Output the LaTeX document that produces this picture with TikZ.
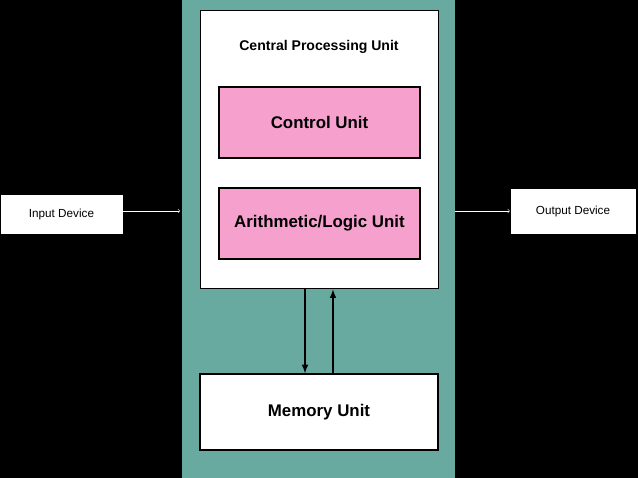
\documentclass[tikz,border=0pt]{standalone}
\usepackage{fontspec}
\setmainfont{Liberation Sans}
\definecolor{teal}{RGB}{104,170,160}
\definecolor{unitpink}{RGB}{245,160,205}
\begin{document}
\begin{tikzpicture}[x=0.03cm,y=-0.03cm,
  unit/.style={draw=black,line width=1.2pt,fill=#1,font=\bfseries\Large,text=black},
  dev/.style={draw=black,fill=white,font=\normalsize},
  thin arrow/.style={->,white,thin},
  bus/.style={-latex,line width=1.5pt,black}]
\useasboundingbox[fill=black] (0,0) rectangle (638,478);
\fill[teal] (182,0) rectangle (455,478);
\node[unit=white,minimum width=238*0.03cm,minimum height=278*0.03cm,anchor=north west] (cpu) at (200,10) {};
\node[font=\bfseries\large] (cputitle) at (319,47) {Central Processing Unit};
\node[unit=unitpink,minimum width=201*0.03cm,minimum height=71*0.03cm] (cu) at (319.5,122.5) {Control Unit};
\node[unit=unitpink,minimum width=201*0.03cm,minimum height=71*0.03cm] (alu) at (319.5,223.5) {Arithmetic/Logic Unit};
\node[unit=white,minimum width=238*0.03cm,minimum height=76*0.03cm] (mem) at (319,412) {Memory Unit};
\node[dev,minimum width=123*0.03cm,minimum height=40*0.03cm] (in) at (61.5,214) {Input Device};
\node[dev,minimum width=126*0.03cm,minimum height=46*0.03cm] (out) at (573,211) {Output Device};
\coordinate (cin) at (180,211);
\coordinate (cout) at (455,211);
\draw[thin arrow] (in.east |- cin) -- (cin);
\draw[thin arrow] (cout) -- (out.west |- cout);
\draw[bus] (cpu.south -| 305,0) -- (mem.north -| 305,0);
\draw[bus] (mem.north -| 333,0) -- (cpu.south -| 333,0);
\end{tikzpicture}
\end{document}
